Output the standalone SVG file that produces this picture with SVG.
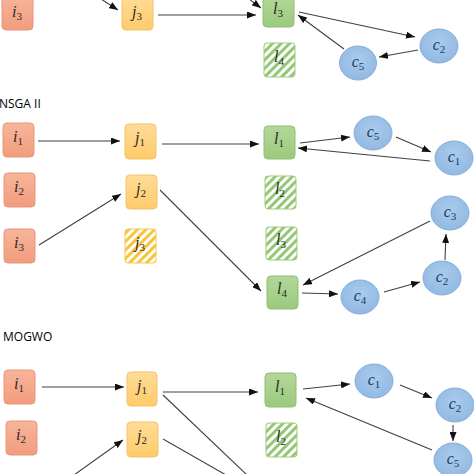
<svg xmlns="http://www.w3.org/2000/svg" width="474" height="474" viewBox="0 0 474 474">
<style>
.ib{fill:url(#gi);stroke:#E8957A;stroke-width:1}
.jb{fill:url(#gj);stroke:#F2C366;stroke-width:1}
.lb{fill:url(#gl);stroke:#8FBE72;stroke-width:1}
.ls{fill:url(#ps);stroke:#9CCB7D;stroke-width:1}
.js{fill:url(#py);stroke:#F5C84E;stroke-width:1}
.cc{fill:url(#gc);stroke:#86AEDA;stroke-width:1}
.t{font-family:"Liberation Serif",serif;font-size:16px;fill:#2b2b2b;text-anchor:middle}
.tc{font-family:"Liberation Serif",serif;font-size:16px;fill:#203864;text-anchor:middle}
.v{font-style:italic}
.s{font-size:11px}
.h{font-family:"Open Sans","Liberation Sans",sans-serif;font-size:12px;fill:#000}
.e{stroke:#404040;stroke-width:1.1;fill:none;marker-end:url(#a)}
.n{stroke:#404040;stroke-width:1.1;fill:none}
</style>
<defs>
<linearGradient id="gi" x1="0" y1="0" x2="0" y2="1"><stop offset="0" stop-color="#F7B59B"/><stop offset="1" stop-color="#F29C7D"/></linearGradient>
<linearGradient id="gj" x1="0" y1="0" x2="0" y2="1"><stop offset="0" stop-color="#FFDC98"/><stop offset="1" stop-color="#FFCB6B"/></linearGradient>
<linearGradient id="gl" x1="0" y1="0" x2="0" y2="1"><stop offset="0" stop-color="#B3D79A"/><stop offset="1" stop-color="#9BCA7E"/></linearGradient>
<radialGradient id="gc" cx="0.5" cy="0.4" r="0.6"><stop offset="0" stop-color="#A9CBEC"/><stop offset="1" stop-color="#93B9E2"/></radialGradient>
<pattern id="ps" width="6" height="6" patternUnits="userSpaceOnUse" patternTransform="rotate(45)"><rect width="6" height="6" fill="#FFFFFF"/><rect width="3" height="6" fill="#94C774"/></pattern>
<pattern id="py" width="6" height="6" patternUnits="userSpaceOnUse" patternTransform="rotate(45)"><rect width="6" height="6" fill="#FFFFFF"/><rect width="3" height="6" fill="#F9C43A"/></pattern>
<marker id="a" markerWidth="9" markerHeight="7" refX="9" refY="3.5" orient="auto" markerUnits="userSpaceOnUse"><path d="M0,0 L9,3.5 L0,7 z" fill="#111"/></marker>
</defs>

<!-- headings -->
<text class="h" x="-1" y="108">NSGA II</text>
<text class="h" x="3" y="341">MOGWO</text>

<g id="connectors">
<!-- top section -->
<path class="e" d="M101,-1 L118,10"/>
<path class="e" d="M249,-1 L261,8"/>
<path class="e" d="M158,15 L256,15"/>
<path class="e" d="M299,12 L415,37"/>
<path class="e" d="M418,50 L379,57"/>
<path class="e" d="M344,49 L298,15"/>
<!-- NSGA II -->
<path class="e" d="M38,141 L120,141"/>
<path class="e" d="M39,245 L121,194"/>
<path class="e" d="M162,144 L259,144"/>
<path class="e" d="M160,190 L261,291"/>
<path class="e" d="M300,143 L350,137"/>
<path class="e" d="M396,137 L431,152"/>
<path class="e" d="M430,161 L298,148"/>
<path class="e" d="M430,221 L303,285"/>
<path class="e" d="M302,293 L338,294"/>
<path class="e" d="M384,292 L420,282"/>
<path class="e" d="M445,260 L446,234"/>
<!-- MOGWO -->
<path class="e" d="M42,387 L124,387"/>
<path class="e" d="M74,475 L123,440"/>
<path class="e" d="M163,392 L258,392"/>
<path class="n" d="M163,395 L247,475"/>
<path class="n" d="M163,439 L226,475"/>
<path class="e" d="M303,389 L350,384"/>
<path class="e" d="M400,385 L432,398"/>
<path class="e" d="M453,425 L453,441"/>
<path class="e" d="M432,450 L306,398"/>
</g>

<!-- top section nodes -->
<g id="top-i3"><rect class="ib" x="2" y="-4" width="31" height="34" rx="4"/><text class="t" x="17" y="17"><tspan class="v">i</tspan><tspan class="s" dy="3">3</tspan></text></g>
<g id="top-j3"><rect class="jb" x="122" y="-3" width="31" height="33" rx="4"/><text class="t" x="137" y="17"><tspan class="v">j</tspan><tspan class="s" dy="3">3</tspan></text></g>
<g id="top-l3"><rect class="lb" x="263" y="-4" width="31" height="31" rx="4"/><text class="t" x="278" y="14"><tspan class="v">l</tspan><tspan class="s" dy="3">3</tspan></text></g>
<g id="top-l4"><rect class="ls" x="264" y="43" width="31" height="34" rx="3"/><text class="t" x="279" y="62"><tspan class="v">l</tspan><tspan class="s" dy="3">4</tspan></text></g>
<g id="top-c5"><ellipse class="cc" cx="358" cy="63" rx="18.5" ry="17"/><text class="tc" x="358" y="67"><tspan class="v">c</tspan><tspan class="s" dy="3">5</tspan></text></g>
<g id="top-c2"><ellipse class="cc" cx="439" cy="46" rx="19" ry="17"/><text class="tc" x="439" y="50"><tspan class="v">c</tspan><tspan class="s" dy="3">2</tspan></text></g>

<!-- NSGA II nodes -->
<g id="n-i1"><rect class="ib" x="3" y="123" width="31" height="34" rx="4"/><text class="t" x="18" y="142"><tspan class="v">i</tspan><tspan class="s" dy="3">1</tspan></text></g>
<g id="n-i2"><rect class="ib" x="4" y="173" width="31" height="34" rx="4"/><text class="t" x="19" y="192"><tspan class="v">i</tspan><tspan class="s" dy="3">2</tspan></text></g>
<g id="n-i3"><rect class="ib" x="4" y="229" width="31" height="34" rx="4"/><text class="t" x="19" y="248"><tspan class="v">i</tspan><tspan class="s" dy="3">3</tspan></text></g>
<g id="n-j1"><rect class="jb" x="125" y="124" width="31" height="35" rx="4"/><text class="t" x="140" y="143"><tspan class="v">j</tspan><tspan class="s" dy="3">1</tspan></text></g>
<g id="n-j2"><rect class="jb" x="126" y="175" width="31" height="34" rx="4"/><text class="t" x="141" y="194"><tspan class="v">j</tspan><tspan class="s" dy="3">2</tspan></text></g>
<g id="n-j3"><rect class="js" x="125" y="229" width="31" height="34" rx="3"/><text class="t" x="140" y="248"><tspan class="v">j</tspan><tspan class="s" dy="3">3</tspan></text></g>
<g id="n-l1"><rect class="lb" x="264" y="126" width="31" height="33" rx="4"/><text class="t" x="279" y="144"><tspan class="v">l</tspan><tspan class="s" dy="3">1</tspan></text></g>
<g id="n-l2"><rect class="ls" x="265" y="176" width="31" height="33" rx="3"/><text class="t" x="280" y="194"><tspan class="v">l</tspan><tspan class="s" dy="3">2</tspan></text></g>
<g id="n-l3"><rect class="ls" x="266" y="227" width="31" height="33" rx="3"/><text class="t" x="281" y="245"><tspan class="v">l</tspan><tspan class="s" dy="3">3</tspan></text></g>
<g id="n-l4"><rect class="lb" x="267" y="276" width="31" height="33" rx="4"/><text class="t" x="282" y="294"><tspan class="v">l</tspan><tspan class="s" dy="3">4</tspan></text></g>
<g id="n-c5"><ellipse class="cc" cx="373" cy="133" rx="19" ry="17"/><text class="tc" x="373" y="137"><tspan class="v">c</tspan><tspan class="s" dy="3">5</tspan></text></g>
<g id="n-c1"><ellipse class="cc" cx="454" cy="158" rx="19" ry="17"/><text class="tc" x="454" y="162"><tspan class="v">c</tspan><tspan class="s" dy="3">1</tspan></text></g>
<g id="n-c3"><ellipse class="cc" cx="450" cy="213" rx="19" ry="17"/><text class="tc" x="450" y="217"><tspan class="v">c</tspan><tspan class="s" dy="3">3</tspan></text></g>
<g id="n-c2"><ellipse class="cc" cx="442" cy="278" rx="19" ry="17"/><text class="tc" x="442" y="282"><tspan class="v">c</tspan><tspan class="s" dy="3">2</tspan></text></g>
<g id="n-c4"><ellipse class="cc" cx="360" cy="297" rx="19" ry="17"/><text class="tc" x="360" y="301"><tspan class="v">c</tspan><tspan class="s" dy="3">4</tspan></text></g>

<!-- MOGWO nodes -->
<g id="m-i1"><rect class="ib" x="4" y="370" width="31" height="34" rx="4"/><text class="t" x="19" y="389"><tspan class="v">i</tspan><tspan class="s" dy="3">1</tspan></text></g>
<g id="m-i2"><rect class="ib" x="6" y="421" width="31" height="34" rx="4"/><text class="t" x="21" y="440"><tspan class="v">i</tspan><tspan class="s" dy="3">2</tspan></text></g>
<g id="m-j1"><rect class="jb" x="127" y="372" width="30" height="34" rx="4"/><text class="t" x="142" y="391"><tspan class="v">j</tspan><tspan class="s" dy="3">1</tspan></text></g>
<g id="m-j2"><rect class="jb" x="127" y="422" width="31" height="35" rx="4"/><text class="t" x="142" y="441"><tspan class="v">j</tspan><tspan class="s" dy="3">2</tspan></text></g>
<g id="m-l1"><rect class="lb" x="265" y="373" width="31" height="34" rx="4"/><text class="t" x="280" y="392"><tspan class="v">l</tspan><tspan class="s" dy="3">1</tspan></text></g>
<g id="m-l2"><rect class="ls" x="266" y="423" width="31" height="34" rx="3"/><text class="t" x="281" y="442"><tspan class="v">l</tspan><tspan class="s" dy="3">2</tspan></text></g>
<g id="m-c1"><ellipse class="cc" cx="374" cy="381" rx="19" ry="17"/><text class="tc" x="374" y="385"><tspan class="v">c</tspan><tspan class="s" dy="3">1</tspan></text></g>
<g id="m-c2"><ellipse class="cc" cx="455" cy="405" rx="19" ry="17"/><text class="tc" x="455" y="409"><tspan class="v">c</tspan><tspan class="s" dy="3">2</tspan></text></g>
<g id="m-c5"><ellipse class="cc" cx="453" cy="460" rx="19" ry="17"/><text class="tc" x="453" y="464"><tspan class="v">c</tspan><tspan class="s" dy="3">5</tspan></text></g>
</svg>
